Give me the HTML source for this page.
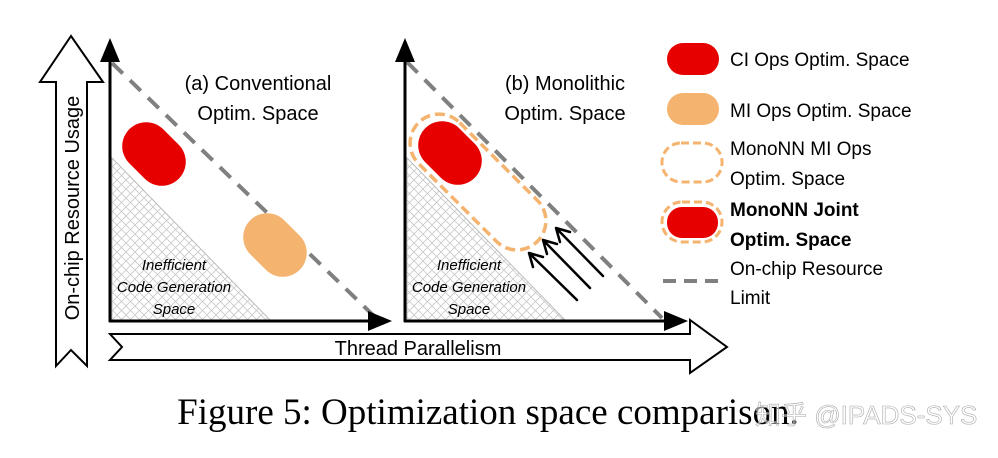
<!DOCTYPE html>
<html><head><meta charset="utf-8"><style>
html,body{margin:0;padding:0;background:#fff;}
svg{display:block;}
.s{font-family:"Liberation Sans","Noto Sans CJK SC",sans-serif;}
.f{font-family:"Liberation Serif",serif;}
</style></head><body>
<svg width="998" height="458" viewBox="0 0 998 458" xmlns="http://www.w3.org/2000/svg">
<defs>
<pattern id="h" width="9" height="9" patternUnits="userSpaceOnUse">
<path d="M0 0L9 9M9 0L0 9" stroke="#c8c8c8" stroke-width="0.8"/>
</pattern>
</defs>
<rect width="998" height="458" fill="#fff"/>
<g class="s">
<path d="M71 36 L103 82 L87 82 L87 366 L71 350 L56 366 L56 82 L40 82 Z" fill="#fff" stroke="#000" stroke-width="2"/>
<text x="0" y="0" transform="translate(79,208) rotate(-90)" font-size="20" text-anchor="middle">On-chip Resource Usage</text>
<path d="M110 334 L690 334 L690 320 L727 347 L690 373 L690 360 L110 360 L122 347 Z" fill="#fff" stroke="#000" stroke-width="2"/>
<text x="418" y="355" font-size="20" text-anchor="middle">Thread Parallelism</text>

<polygon points="112,158 112,320 270,320" fill="url(#h)" stroke="#bbb" stroke-width="1"/>
<line x1="112" y1="63" x2="376" y2="318" stroke="#808080" stroke-width="4" stroke-dasharray="15,10"/>
<line x1="110" y1="58" x2="110" y2="322" stroke="#000" stroke-width="3"/>
<polygon points="110,38 100,62 120,62" fill="#000"/>
<line x1="109" y1="321" x2="372" y2="321" stroke="#000" stroke-width="3"/>
<polygon points="392,321 368,311 368,331" fill="#000"/>
<rect x="-35" y="-24" width="70" height="48" rx="24" fill="#e60000" transform="translate(154,154) rotate(45)"/>
<rect x="-35" y="-24" width="70" height="48" rx="24" fill="#f4b36e" transform="translate(275,245) rotate(45)"/>
<text x="258" y="90" font-size="20" text-anchor="middle">(a) Conventional</text>
<text x="258" y="120" font-size="20" text-anchor="middle">Optim. Space</text>
<g font-size="15" font-style="italic" text-anchor="middle">
<text x="174" y="270">Inefficient</text>
<text x="174" y="292">Code Generation</text>
<text x="174" y="314">Space</text>
</g>

<polygon points="407,158 407,320 565,320" fill="url(#h)" stroke="#bbb" stroke-width="1"/>
<line x1="407" y1="62" x2="662" y2="318" stroke="#808080" stroke-width="4" stroke-dasharray="15,10"/>
<rect x="-84" y="-29" width="168" height="58" rx="29" fill="#fff" stroke="#f4b36e" stroke-width="3.5" stroke-dasharray="10,5" transform="translate(478,182) rotate(45)"/>
<rect x="-35" y="-24" width="70" height="48" rx="24" fill="#e60000" transform="translate(450,153) rotate(45)"/>
<line x1="405" y1="58" x2="405" y2="322" stroke="#000" stroke-width="3"/>
<polygon points="405,38 395,62 415,62" fill="#000"/>
<line x1="404" y1="321" x2="668" y2="321" stroke="#000" stroke-width="3"/>
<polygon points="688,321 664,311 664,331" fill="#000"/>
<g stroke="#000" stroke-width="2.5" fill="none" stroke-linecap="round">
<path d="M577 300 L529 253 M529 253 L543 257 M529 253 L533 267"/>
<path d="M590 288 L543 240 M543 240 L557 244 M543 240 L547 254"/>
<path d="M603 276 L556 228 M556 228 L570 232 M556 228 L560 242"/>
</g>
<text x="565" y="90" font-size="20" text-anchor="middle">(b) Monolithic</text>
<text x="565" y="120" font-size="20" text-anchor="middle">Optim. Space</text>
<g font-size="15" font-style="italic" text-anchor="middle">
<text x="469" y="270">Inefficient</text>
<text x="469" y="292">Code Generation</text>
<text x="469" y="314">Space</text>
</g>

<rect x="667" y="43" width="52" height="32" rx="16" fill="#e60000"/>
<rect x="667" y="93" width="52" height="32" rx="16" fill="#f4b36e"/>
<rect x="662" y="143" width="60" height="39" rx="19" fill="#fff" stroke="#f4b36e" stroke-width="3" stroke-dasharray="8,4"/>
<rect x="662" y="202" width="60" height="40" rx="20" fill="#fff" stroke="#f4b36e" stroke-width="3" stroke-dasharray="8,4"/>
<rect x="667" y="207" width="51" height="31" rx="15" fill="#e60000"/>
<line x1="663" y1="281" x2="726" y2="281" stroke="#808080" stroke-width="4" stroke-dasharray="13,8"/>
<g font-size="19">
<text x="730" y="66">CI Ops Optim. Space</text>
<text x="730" y="117">MI Ops Optim. Space</text>
<text x="730" y="155">MonoNN MI Ops</text>
<text x="730" y="185">Optim. Space</text>
<text x="730" y="216" font-weight="bold">MonoNN Joint</text>
<text x="730" y="246" font-weight="bold">Optim. Space</text>
<text x="730" y="275">On-chip Resource</text>
<text x="730" y="304">Limit</text>
</g>
</g>
<text class="f" x="488" y="424" font-size="37" text-anchor="middle">Figure 5: Optimization space comparison.</text>
<text class="s" x="755" y="424" font-size="26" fill="#ffffff" fill-opacity="0.5" stroke="#aaa" stroke-width="0.6">知乎 @IPADS-SYS</text>
</svg>
</body></html>
